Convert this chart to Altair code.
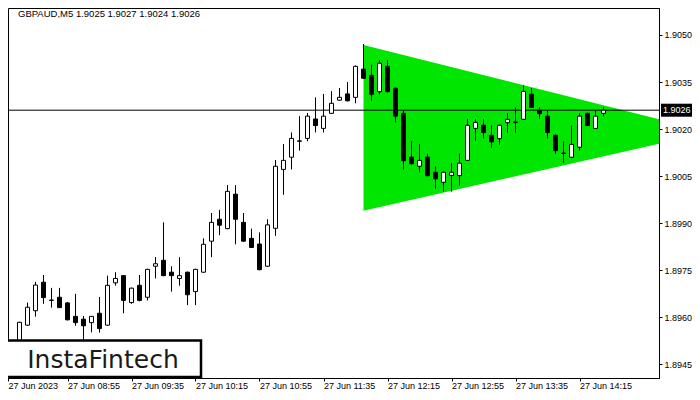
import altair as alt
import pandas as pd

# ---- data (GBPAUD, M5, 27 Jun 2023, first bar 08:15) ----
symbol = "GBPAUD,M5"
opens = [1.89533, 1.89511, 1.89508, 1.89574, 1.89620, 1.89711, 1.89654, 1.89663, 1.89645, 1.89602,
         1.89593, 1.89582, 1.89612, 1.89574, 1.89709, 1.89732, 1.89646, 1.89701, 1.89663, 1.89762,
         1.89781, 1.89743, 1.89723, 1.89743, 1.89681, 1.89743, 1.89842, 1.89912, 1.89882, 1.89992,
         1.89902, 1.89851, 1.89833, 1.89762, 1.89883, 1.90071, 1.90110, 1.90162, 1.90170, 1.90232,
         1.90202, 1.90250, 1.90292, 1.90312, 1.90301, 1.90391, 1.90371, 1.90319, 1.90400, 1.90330,
         1.90250, 1.90110, 1.90081, 1.90110, 1.90062, 1.90030, 1.90052, 1.90051, 1.90100, 1.90202,
         1.90212, 1.90180, 1.90169, 1.90220, 1.90222, 1.90231, 1.90311, 1.90260, 1.90241, 1.90180,
         1.90123, 1.90110, 1.90142, 1.90250, 1.90202, 1.90250]
highs = [1.89543, 1.89523, 1.89585, 1.89646, 1.89712, 1.89734, 1.89693, 1.89693, 1.89648, 1.89674,
         1.89603, 1.89603, 1.89664, 1.89732, 1.89743, 1.89734, 1.89694, 1.89734, 1.89754, 1.89791,
         1.89902, 1.89762, 1.89791, 1.89745, 1.89754, 1.89851, 1.89932, 1.89942, 1.90021, 1.90021,
         1.89932, 1.89882, 1.89870, 1.89912, 1.90101, 1.90152, 1.90189, 1.90241, 1.90251, 1.90301,
         1.90312, 1.90321, 1.90331, 1.90350, 1.90403, 1.90471, 1.90405, 1.90420, 1.90420, 1.90332,
         1.90260, 1.90162, 1.90152, 1.90122, 1.90081, 1.90064, 1.90091, 1.90122, 1.90231, 1.90231,
         1.90231, 1.90212, 1.90214, 1.90251, 1.90269, 1.90339, 1.90331, 1.90269, 1.90260, 1.90182,
         1.90161, 1.90212, 1.90251, 1.90252, 1.90260, 1.90270]
lows = [1.89495, 1.89489, 1.89501, 1.89572, 1.89601, 1.89642, 1.89630, 1.89629, 1.89589, 1.89572,
        1.89523, 1.89551, 1.89550, 1.89572, 1.89700, 1.89612, 1.89642, 1.89650, 1.89653, 1.89723,
        1.89730, 1.89681, 1.89700, 1.89638, 1.89638, 1.89741, 1.89791, 1.89861, 1.89880, 1.89832,
        1.89840, 1.89820, 1.89749, 1.89760, 1.89859, 1.89990, 1.90071, 1.90131, 1.90161, 1.90189,
        1.90189, 1.90248, 1.90290, 1.90288, 1.90282, 1.90360, 1.90290, 1.90311, 1.90317, 1.90220,
        1.90070, 1.90087, 1.90061, 1.90049, 1.90009, 1.90000, 1.90000, 1.90020, 1.90098, 1.90162,
        1.90169, 1.90140, 1.90150, 1.90188, 1.90188, 1.90229, 1.90267, 1.90231, 1.90169, 1.90121,
        1.90091, 1.90108, 1.90131, 1.90209, 1.90200, 1.90240]
closes = [1.89511, 1.89520, 1.89583, 1.89631, 1.89702, 1.89662, 1.89653, 1.89630, 1.89591, 1.89582,
          1.89572, 1.89602, 1.89563, 1.89701, 1.89723, 1.89653, 1.89692, 1.89653, 1.89752, 1.89770,
          1.89732, 1.89732, 1.89732, 1.89671, 1.89752, 1.89832, 1.89902, 1.89893, 1.90001, 1.89912,
          1.89842, 1.89822, 1.89751, 1.89894, 1.90081, 1.90100, 1.90170, 1.90161, 1.90241, 1.90211,
          1.90241, 1.90282, 1.90301, 1.90290, 1.90400, 1.90362, 1.90311, 1.90410, 1.90319, 1.90241,
          1.90099, 1.90089, 1.90100, 1.90051, 1.90041, 1.90062, 1.90062, 1.90091, 1.90212, 1.90221,
          1.90189, 1.90159, 1.90212, 1.90231, 1.90221, 1.90320, 1.90269, 1.90249, 1.90189, 1.90131,
          1.90122, 1.90151, 1.90241, 1.90211, 1.90241, 1.90260]

# symmetric triangle pattern (bar index, price)
tri_x = [45, 88.36]
tri_top = [1.90468, 1.90190]
tri_bot = [1.89939, 1.90190]

current_price = 1.9026

# x-axis ticks (bar index) and labels
tick_idx = [0, 8, 16, 24, 32, 40, 48, 56, 64, 72]
tick_labels = ["27 Jun 2023", "27 Jun 08:55", "27 Jun 09:35", "27 Jun 10:15", "27 Jun 10:55",
               "27 Jun 11:35", "27 Jun 12:15", "27 Jun 12:55", "27 Jun 13:35", "27 Jun 14:15"]
y_ticks = [1.8945, 1.8960, 1.8975, 1.8990, 1.9005, 1.9020, 1.9035, 1.9050]

# ---- layout ----
W, H = 651, 370
X_MIN = 0.5625
X_DOMAIN = [X_MIN, X_MIN + W / 8]
Y_DOMAIN = [1.8940532, 1.9058617]
FONT = "Liberation Sans"
FS = 9
GREEN = "#00e600"

df = pd.DataFrame({
    "idx": list(range(len(opens))),
    "open": opens, "high": highs, "low": lows, "close": closes,
})
df["top"] = df[["open", "close"]].max(axis=1)
df["bot"] = df[["open", "close"]].min(axis=1)
df["fill"] = ["white" if c >= o else "black" for o, c in zip(opens, closes)]

tick_vals = [X_MIN] + tick_idx[1:]
label_expr = ""
for v, lab in zip(tick_vals, tick_labels):
    label_expr += f"datum.value == {v} ? '{lab}' : "
label_expr += "''"

xscale = alt.Scale(domain=X_DOMAIN, nice=False, zero=False, padding=0)
yscale = alt.Scale(domain=Y_DOMAIN, nice=False, zero=False, padding=0)

x_axis = alt.Axis(values=tick_vals, labelExpr=label_expr, title=None, grid=False,
                  labelAlign="left", labelBaseline="top", labelPadding=0, tickSize=3,
                  labelFont=FONT, labelFontSize=FS, labelColor="black", tickColor="black",
                  domainColor="black", labelOverlap=False, labelBound=False, labelFlush=False)
y_axis = alt.Axis(values=y_ticks, format=".4f", orient="right", title=None, grid=False,
                  labelPadding=2, tickSize=3, labelFont=FONT, labelFontSize=FS,
                  labelColor="black", tickColor="black", domainColor="black",
                  labelOverlap=False)

tri_df = pd.DataFrame({"idx": tri_x, "top": tri_top, "bot": tri_bot})
triangle = alt.Chart(tri_df).mark_area(color=GREEN, opacity=1, clip=True).encode(
    x=alt.X("idx:Q", scale=xscale, axis=x_axis),
    y=alt.Y("top:Q", scale=yscale, axis=y_axis),
    y2="bot:Q",
)

price_df = pd.DataFrame({"price": [current_price]})
price_line = alt.Chart(price_df).mark_rule(color="black", strokeWidth=1).encode(
    y=alt.Y("price:Q", scale=yscale),
)

wicks = alt.Chart(df).mark_rule(color="black", strokeWidth=1, clip=True).encode(
    x=alt.X("idx:Q", scale=xscale),
    y=alt.Y("high:Q", scale=yscale),
    y2="low:Q",
)
bodies = alt.Chart(df).mark_bar(size=4, stroke="black", strokeWidth=1, clip=True).encode(
    x=alt.X("idx:Q", scale=xscale),
    y=alt.Y("top:Q", scale=yscale),
    y2="bot:Q",
    fill=alt.Fill("fill:N", scale=None),
)

price_box = alt.Chart(price_df).mark_rule(color="black", strokeWidth=13, clip=False).encode(
    y=alt.Y("price:Q", scale=yscale),
    x=alt.value(W + 2), x2=alt.value(W + 33),
)
price_txt = alt.Chart(price_df).mark_text(
    align="left", baseline="middle", color="white", font=FONT, fontSize=FS, clip=False
).encode(
    y=alt.Y("price:Q", scale=yscale),
    x=alt.value(W + 4),
    text=alt.Text("price:Q", format=".4f"),
)

title_txt = f"{symbol}  {opens[-1]:.4f} {highs[-1]:.4f} {lows[-1]:.4f} {closes[-1]:.4f}"
one = pd.DataFrame({"t": [title_txt]})
title = alt.Chart(one).mark_text(
    align="left", baseline="top", color="black", font=FONT, fontSize=9.5
).encode(x=alt.value(10), y=alt.value(0.5), text="t:N")

logo_df = pd.DataFrame({"t": ["InstaFintech"]})
logo_box = alt.Chart(logo_df).mark_rect(fill="white", stroke="black", strokeWidth=2.5).encode(
    x=alt.value(-2), x2=alt.value(193), y=alt.value(332.5), y2=alt.value(369),
)
logo_txt = alt.Chart(logo_df).mark_text(
    align="center", baseline="middle", color="#1a1a1a", font="DejaVu Sans", fontSize=25
).encode(x=alt.value(95), y=alt.value(351.5), text="t:N")

chart = alt.layer(
    triangle, price_line, wicks, bodies, price_box, price_txt, title, logo_box, logo_txt
).properties(
    width=W, height=H,
    padding={"left": 0, "top": 0, "right": 33, "bottom": 14},
    autosize=alt.AutoSizeParams(type="none"),
    background="white",
).configure_view(stroke="black", strokeWidth=1)

chart.save("out.html", embed_options={"renderer": "svg", "actions": False})
